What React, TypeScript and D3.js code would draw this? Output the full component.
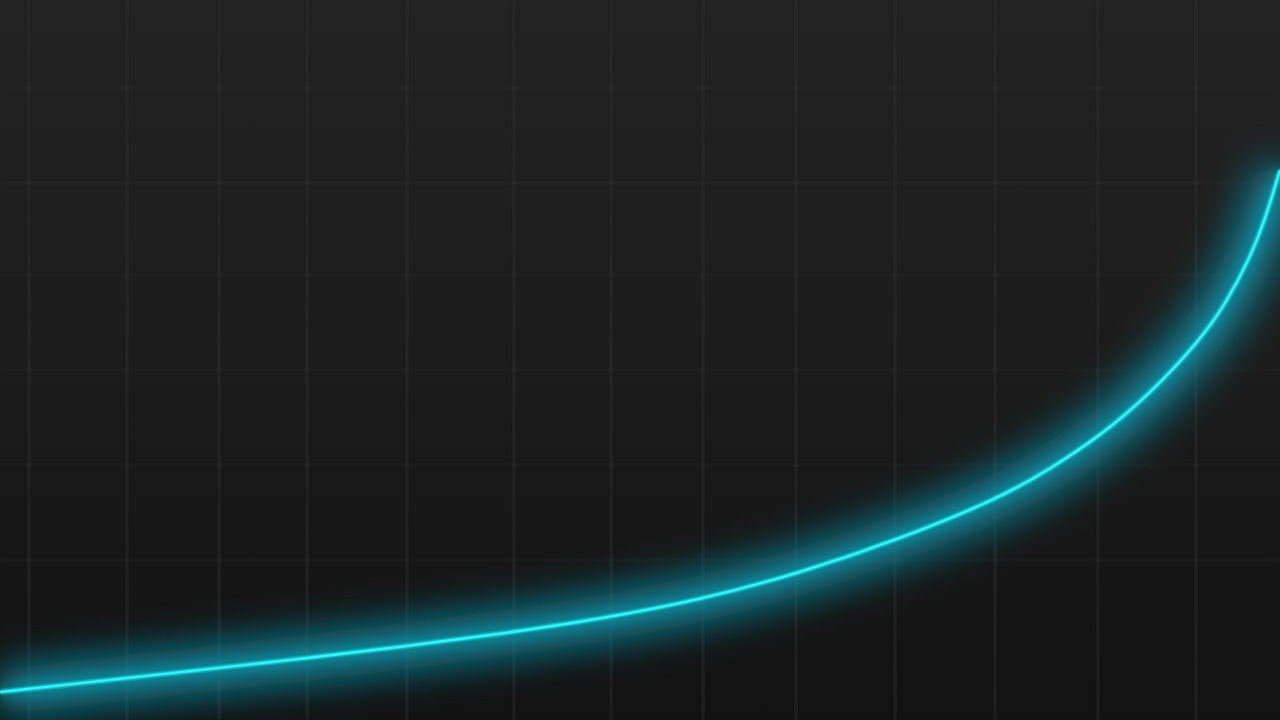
import React from "react";
import * as d3 from "d3";

const W = 1280;
const H = 720;

// curve samples: time (x) and value (y)
const timeValues = [0, 100, 200, 300, 400, 500, 600, 700, 800, 900, 1000, 1050, 1100, 1150, 1200, 1225, 1250, 1265, 1280];
const seriesValues = [28, 39, 50, 61, 73, 86, 101, 120, 147, 181, 222, 251, 284, 326, 380, 415, 462, 500, 550];

// grid positions (in data units)
const verticalGrid = [29, 127, 219, 307, 407, 514, 611, 703, 796, 895, 995, 1098, 1196];
const horizontalGrid = [632, 537, 445, 350, 255, 160];

export default function App() {
  const x = d3.scaleLinear().domain([0, 1280]).range([0, W]);
  const y = d3.scaleLinear().domain([0, 720]).range([H, 0]);
  const data = timeValues.map((t, i) => [t, seriesValues[i]] as [number, number]);
  const line = d3
    .line<[number, number]>()
    .x((d) => x(d[0]))
    .y((d) => y(d[1]))
    .curve(d3.curveBasis);
  const path = line(data) || "";

  return (
    <div style={{ position: "fixed", left: 0, top: 0, width: W, height: H, overflow: "hidden" }}>
      <svg width={W} height={H} style={{ display: "block" }}>
        <defs>
          <linearGradient id="bg" x1="0" y1="0" x2="0" y2="1">
            <stop offset="0" stopColor="#232323" />
            <stop offset="0.5" stopColor="#1c1c1c" />
            <stop offset="1" stopColor="#121212" />
          </linearGradient>
          <filter id="softGrid" x="-50%" y="-50%" width="200%" height="200%">
            <feGaussianBlur stdDeviation="0.9" />
          </filter>
          <filter id="glowWide" x="-20%" y="-60%" width="140%" height="220%">
            <feGaussianBlur stdDeviation="20" />
          </filter>
          <filter id="glowMid" x="-20%" y="-40%" width="140%" height="180%">
            <feGaussianBlur stdDeviation="7" />
          </filter>
          <filter id="glowCore" x="-20%" y="-40%" width="140%" height="180%">
            <feGaussianBlur stdDeviation="1.2" />
          </filter>
        </defs>
        <rect x={0} y={0} width={W} height={H} fill="url(#bg)" />
        <g filter="url(#softGrid)">
          {horizontalGrid.map((v, i) => (
            <line key={"h" + i} x1={0} x2={W} y1={y(v)} y2={y(v)} stroke="#ffffff" strokeOpacity={0.018} strokeWidth={2} />
          ))}
          {verticalGrid.map((v, i) => (
            <line key={"v" + i} x1={x(v)} x2={x(v)} y1={0} y2={H} stroke="#343434" strokeOpacity={0.7} strokeWidth={2.2} />
          ))}
        </g>
        <path d={path} fill="none" stroke="#0a8ea6" strokeOpacity={0.9} strokeWidth={46} filter="url(#glowWide)" />
        <path d={path} fill="none" stroke="#0fb4ca" strokeOpacity={0.6} strokeWidth={10} filter="url(#glowMid)" />
        <path d={path} fill="none" stroke="#1fe4ee" strokeWidth={4} filter="url(#glowCore)" />
        <path d={path} fill="none" stroke="#30f6f8" strokeWidth={2.2} />
      </svg>
    </div>
  );
}
